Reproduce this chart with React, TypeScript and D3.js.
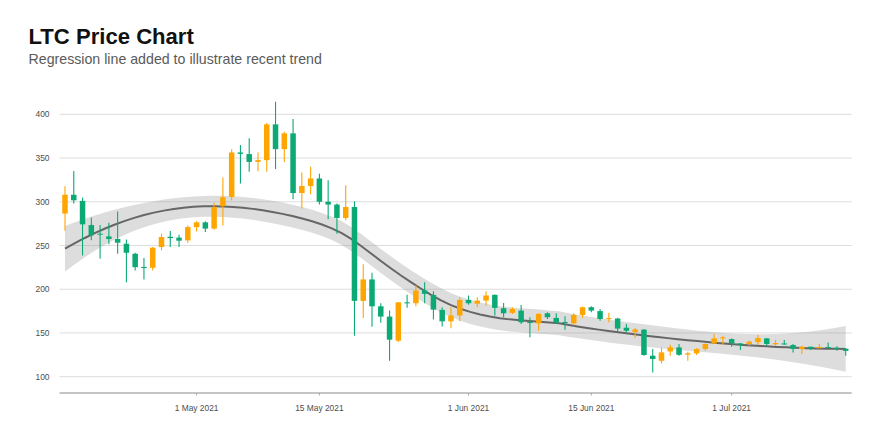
import React, { useRef, useEffect } from 'react';
import * as d3 from 'd3';

// daily LTC candles, 16 Apr 2021 .. 14 Jul 2021
const START_DATE = '2021-04-16';
const OPEN = [
  286.5, 308, 301, 273.4, 263.5, 260.4, 257.4, 252, 240.6, 225.5, 224.5, 248.2, 260, 259, 255.9,
  271, 276.5, 269.3, 295, 305.5, 356.4, 354.5, 345.6, 347.6, 388.5, 360.2, 378.2, 310, 318, 326.6, 300, 296.8, 281.5,
  294, 186.7, 211.2, 180.5, 168.7, 141.2, 185, 184, 198.5, 193.5, 176.4, 163.3, 170,
  187.8, 183.5, 187, 193.6, 178.3, 173, 175.6, 162.5, 161, 172.5, 167.2, 162.5, 161, 170.6, 179.4,
  175, 166, 166.5, 156, 151, 153.8, 124, 118.2, 128.9, 133.5, 125.2, 126.7, 131.7, 138.1, 144.2,
  143, 138, 137.4, 139.5, 143.8, 137, 138, 136.2, 131.7, 134.3, 132.5, 134, 133, 132,
];
const HIGH = [
  317.8, 335.3, 304.8, 282, 273.4, 276, 289, 257, 241.7, 235.6, 248.2, 263.5, 266.5, 262.4, 273,
  277.6, 277.6, 299, 327.8, 360, 364.8, 372.5, 356.4, 390, 414.4, 380, 394.6, 333.5, 340, 331.9, 324.7, 298, 319,
  300.6, 228.7, 218.8, 184, 175.6, 185.1, 193.6, 204.2, 208, 197.7, 179.4, 179.4, 190.8,
  192.8, 190.8, 197.7, 194, 184.4, 179.4, 182, 167.9, 172.9, 173.6, 172.5, 169, 172.5, 180.2, 180.5,
  177.5, 173, 167.5, 160.3, 155.7, 154.6, 131.7, 133.5, 136.6, 137.4, 128.6, 132.4, 138.1, 148.9, 146.9,
  143.8, 138.5, 141.2, 148, 144.2, 142, 142, 137.4, 135.4, 134.3, 137.4, 139.2, 134.7, 132.4,
];
const LOW = [
  267, 298, 238.6, 255.9, 234.8, 251.3, 240.6, 208, 221.4, 211, 221.4, 244.4, 248.2, 248.2, 253.2,
  266, 265.4, 268, 273, 301.7, 320.9, 334.2, 335, 334.2, 337.3, 345.6, 302.9, 292.2, 308.6, 296.8, 280, 263.5, 278.8,
  146.9, 167.2, 157.2, 161.8, 118.2, 139.7, 178.7, 180.5, 184, 165.3, 157.5, 155.3, 163.3,
  182.4, 179.4, 181.3, 170, 167.9, 171.8, 160.3, 145, 152.6, 166, 160.3, 153.8, 158.4, 166.8, 173.6,
  164.1, 162.2, 150.7, 150.7, 144.3, 124, 104.8, 115.1, 124, 124, 118.2, 124.8, 129.7, 137.4, 136.2,
  134.3, 130.5, 135.4, 136.6, 135.4, 135.4, 136.6, 127.8, 125.9, 130.5, 132.8, 132.4, 129.7, 124,
];
const CLOSE = [
  308, 301.7, 274.2, 261.6, 262.5, 257.4, 253.2, 241.7, 225.2, 224.2, 247.5, 259.7, 258.5, 255.5, 271,
  276.5, 269.3, 293.7, 305.2, 356.4, 354.8, 345.6, 347.6, 388.5, 360.2, 378.2, 310, 318, 326.6, 300, 296.8, 281.5, 294,
  186.7, 211.2, 180.5, 168.7, 142.3, 185, 184, 198.5, 194.7, 176.7, 163.3, 170, 187.8,
  184, 187, 192.8, 178.7, 172.5, 177.5, 162.2, 161.5, 171.8, 168, 162.2, 161.5, 170.6, 179.4, 175.6,
  166, 167, 155, 152.5, 154, 124.8, 120.2, 127.8, 133.5, 125, 126.7, 131.7, 137.4, 143.8, 144.9,
  138.1, 137, 140, 144.2, 137.4, 138.5, 137.4, 131.7, 134.3, 132.5, 134, 133, 132, 129.5,
];
const Y_TICKS = [100, 150, 200, 250, 300, 350, 400];
const X_TICKS = ['2021-05-01', '2021-05-15', '2021-06-01', '2021-06-15', '2021-07-01'];

const UP = '#FFA500';
const DOWN = '#0BAA74';

// local quadratic loess (tricube weights), like ggplot's default smoother
function loess(xs: number[], ys: number[], span: number, at: number[]) {
  const n = xs.length;
  const q = Math.floor(n * span);
  const weightsAt = (x0: number) => {
    const d = xs.map((x) => Math.abs(x - x0));
    const h = d.slice().sort((a, b) => a - b)[q - 1];
    const w = d.map((v) => (v < h ? Math.pow(1 - Math.pow(v / h, 3), 3) : 0));
    let s = [0, 0, 0, 0, 0];
    xs.forEach((x, i) => { const t = x - x0; for (let k = 0; k < 5; k++) s[k] += w[i] * Math.pow(t, k); });
    const m = [[s[0], s[1], s[2]], [s[1], s[2], s[3]], [s[2], s[3], s[4]]];
    const det = m[0][0] * (m[1][1] * m[2][2] - m[1][2] * m[2][1]) - m[0][1] * (m[1][0] * m[2][2] - m[1][2] * m[2][0]) + m[0][2] * (m[1][0] * m[2][1] - m[1][1] * m[2][0]);
    const a0 = (m[1][1] * m[2][2] - m[1][2] * m[2][1]) / det;
    const a1 = -(m[0][1] * m[2][2] - m[0][2] * m[2][1]) / det;
    const a2 = (m[0][1] * m[1][2] - m[0][2] * m[1][1]) / det;
    return xs.map((x, i) => { const t = x - x0; return w[i] * (a0 + a1 * t + a2 * t * t); });
  };
  const L = xs.map((x) => weightsAt(x));
  let trL = 0, trLL = 0, rss = 0;
  L.forEach((row, j) => {
    trL += row[j];
    row.forEach((v) => { trLL += v * v; });
    const f = d3.sum(row, (v, i) => v * ys[i]);
    rss += (ys[j] - f) ** 2;
  });
  const delta1 = n - 2 * trL + trLL;
  const s = Math.sqrt(rss / delta1);
  return at.map((x0) => {
    const l = weightsAt(x0);
    const fit = d3.sum(l, (v, i) => v * ys[i]);
    const se = s * Math.sqrt(d3.sum(l, (v) => v * v));
    return { x: x0, fit, lo: fit - 1.99 * se, hi: fit + 1.99 * se };
  });
}

export default function App() {
  const svgRef = useRef<SVGSVGElement>(null);

  useEffect(() => {
    if (!svgRef.current) return;
    const width = 880, height = 440;
    const panel = { left: 59.5, right: 851.7, bottom: 393 };
    const svg = d3.select(svgRef.current);
    svg.selectAll('*').remove();

    const start = d3.timeParse('%Y-%m-%d')(START_DATE)!;
    const dates = d3.timeDay.range(start, d3.timeDay.offset(start, CLOSE.length));
    const candles = dates.map((d, i) => ({ date: d, o: OPEN[i], h: HIGH[i], l: LOW[i], c: CLOSE[i] }));

    const x = d3.scaleTime().domain([dates[0], dates[dates.length - 1]]).range([65, 845.7]);
    const y = d3.scaleLinear().domain([100, 400]).range([376.7, 114.3]);

    Y_TICKS.forEach((t) => {
      svg.append('line').attr('x1', panel.left).attr('x2', panel.right).attr('y1', y(t)).attr('y2', y(t))
        .attr('stroke', '#dddddd').attr('stroke-width', 1);
      svg.append('text').attr('x', 49.5).attr('y', y(t)).attr('text-anchor', 'end').attr('dominant-baseline', 'central')
        .attr('fill', '#4d4d4d').attr('font-size', '8.4px').text(t);
    });

    // regression band + line
    const idx = dates.map((_, i) => i);
    const grid = d3.range(80).map((k) => (k * (dates.length - 1)) / 79);
    const sm = loess(idx, CLOSE, 0.75, grid);
    const xi = (v: number) => x(start.getTime() + v * 86400000);
    svg.append('path').datum(sm)
      .attr('d', d3.area<any>().x((d) => xi(d.x)).y0((d) => y(d.lo)).y1((d) => y(d.hi)))
      .attr('fill', '#999999').attr('fill-opacity', 0.33);
    svg.append('path').datum(sm)
      .attr('d', d3.line<any>().x((d) => xi(d.x)).y((d) => y(d.fit)))
      .attr('fill', 'none').attr('stroke', '#666666').attr('stroke-width', 2);

    // candles
    const bw = 5.5;
    const g = svg.append('g');
    candles.forEach((d) => {
      const col = d.c >= d.o ? UP : DOWN;
      const cx = x(d.date);
      g.append('line').attr('x1', cx).attr('x2', cx).attr('y1', y(d.h)).attr('y2', y(d.l))
        .attr('stroke', col).attr('stroke-width', 1.1);
      const top = y(Math.max(d.o, d.c));
      const hgt = Math.max(1, Math.abs(y(d.o) - y(d.c)));
      g.append('rect').attr('x', cx - bw / 2).attr('y', top).attr('width', bw).attr('height', hgt).attr('fill', col);
    });

    // x axis
    svg.append('line').attr('x1', panel.left).attr('x2', panel.right).attr('y1', panel.bottom).attr('y2', panel.bottom)
      .attr('stroke', '#8a8a8a').attr('stroke-width', 1);
    const fmt = d3.timeFormat('%-d %b %Y');
    X_TICKS.forEach((s) => {
      const d = d3.timeParse('%Y-%m-%d')(s)!;
      svg.append('line').attr('x1', x(d)).attr('x2', x(d)).attr('y1', panel.bottom).attr('y2', panel.bottom + 2.5)
        .attr('stroke', '#aaaaaa').attr('stroke-width', 1);
      svg.append('text').attr('x', x(d)).attr('y', 410.5).attr('text-anchor', 'middle')
        .attr('fill', '#4d4d4d').attr('font-size', '8.4px').text(fmt(d));
    });

    svg.append('text').attr('x', 28.5).attr('y', 43.5).attr('font-size', '22.1px').attr('font-weight', 'bold')
      .attr('fill', '#111111').text('LTC Price Chart');
    svg.append('text').attr('x', 28.5).attr('y', 64).attr('font-size', '14.2px')
      .attr('fill', '#5a5a5a').text('Regression line added to illustrate recent trend');

    svg.attr('width', width).attr('height', height);
  }, []);

  return (
    <div style={{ position: 'absolute', left: 0, top: 0 }}>
      <svg ref={svgRef} width={880} height={440} style={{ display: 'block', fontFamily: '"Liberation Sans", Arial, sans-serif' }} />
    </div>
  );
}
